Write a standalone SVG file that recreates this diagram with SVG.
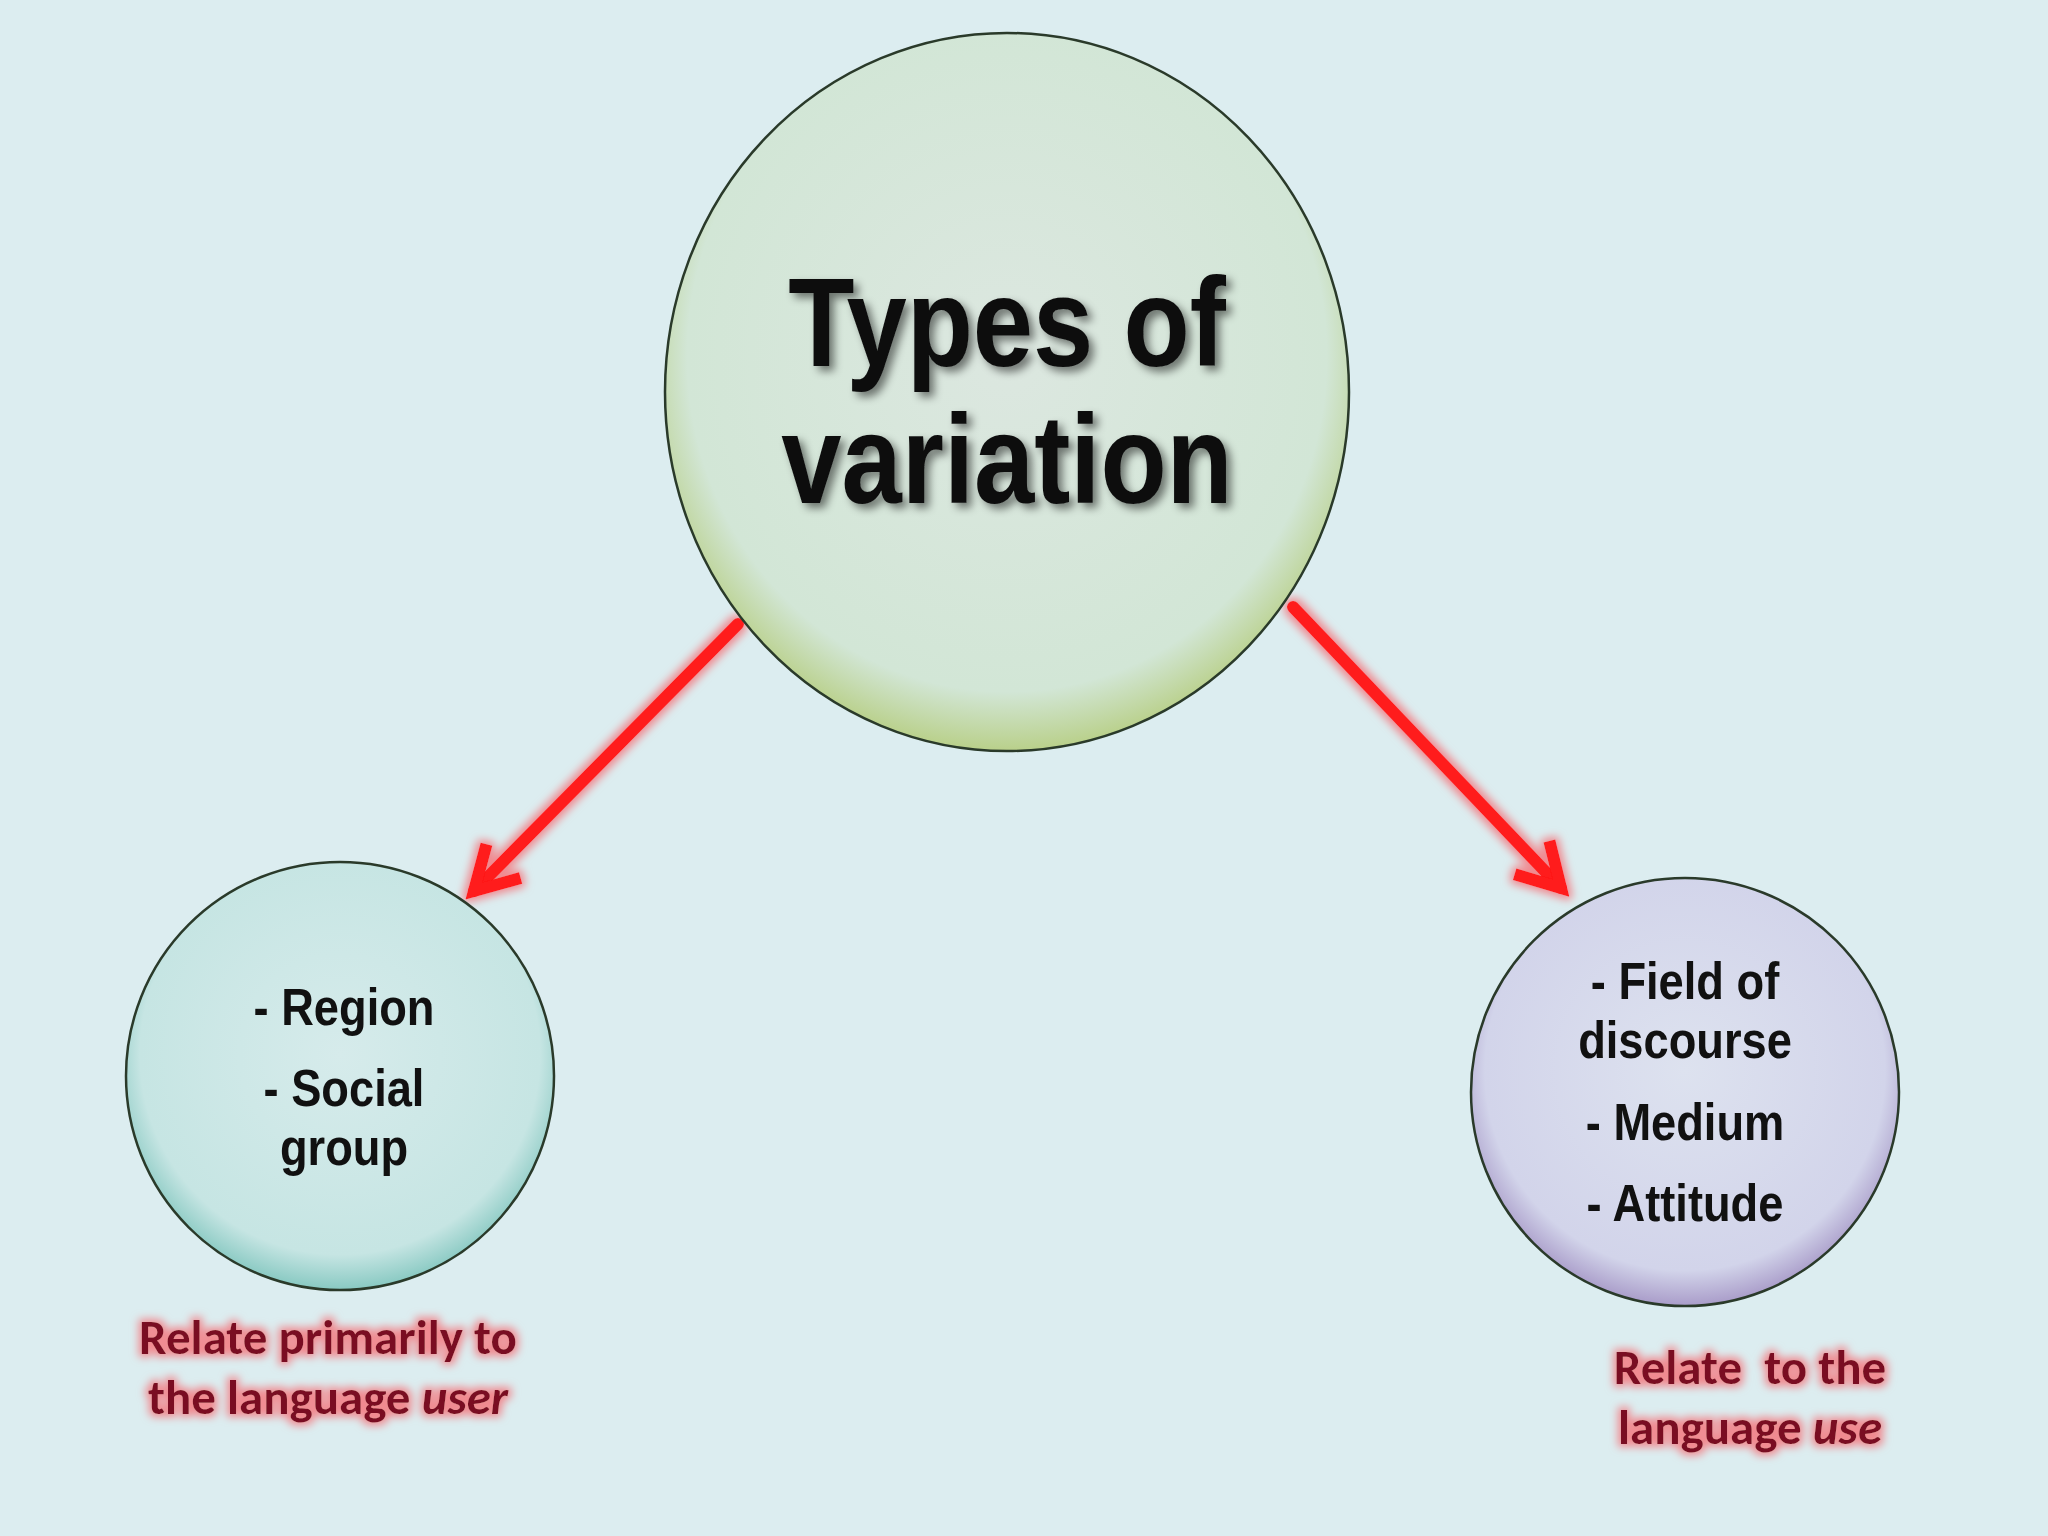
<svg xmlns="http://www.w3.org/2000/svg" width="2048" height="1536" viewBox="0 0 2048 1536">
<defs>
<radialGradient id="gc" cx="50%" cy="45%" r="55%"><stop offset="0" stop-color="#dce7e0"/><stop offset="0.85" stop-color="#d2e6d6"/><stop offset="1" stop-color="#b9d08a"/></radialGradient>
<radialGradient id="gl" cx="50%" cy="45%" r="55%"><stop offset="0" stop-color="#d6ebeb"/><stop offset="0.85" stop-color="#c6e5e3"/><stop offset="1" stop-color="#88c9c2"/></radialGradient>
<radialGradient id="gr" cx="50%" cy="45%" r="55%"><stop offset="0" stop-color="#dde2ef"/><stop offset="0.85" stop-color="#d2d4ea"/><stop offset="1" stop-color="#a99cc9"/></radialGradient>
<filter id="sh" x="-20%" y="-20%" width="140%" height="140%"><feGaussianBlur in="SourceAlpha" stdDeviation="4"/><feOffset dx="5" dy="5"/><feComponentTransfer><feFuncA type="linear" slope="0.5"/></feComponentTransfer><feMerge><feMergeNode/><feMergeNode in="SourceGraphic"/></feMerge></filter>
<filter id="glow" x="-20%" y="-20%" width="140%" height="140%"><feMorphology in="SourceAlpha" operator="dilate" radius="3" result="d"/><feGaussianBlur in="d" stdDeviation="4" result="b"/><feFlood flood-color="#f08a90"/><feComposite in2="b" operator="in"/><feMerge><feMergeNode/><feMergeNode in="SourceGraphic"/></feMerge></filter>
<marker id="ah" viewBox="0 0 10 10" refX="8" refY="5" markerWidth="5" markerHeight="5" orient="auto"><path d="M1,1 L8,5 L1,9" fill="none" stroke="#ff1a1a" stroke-width="2"/></marker>
</defs>
<style>
.c{stroke:#2a3a2a;stroke-width:2.5}
.t{font-family:"Liberation Sans",Arial,sans-serif;font-weight:bold;fill:#111;text-anchor:middle}
.r{font-family:Carlito,"Liberation Sans",sans-serif;font-weight:bold;fill:#7a1020;text-anchor:middle;font-size:49px}
.a{stroke:#ff1a1a;stroke-width:12;fill:none;stroke-linecap:round}
</style>
<rect width="2048" height="1536" fill="#dcedf0"/>
<g id="connectors" filter="url(#glow)">
<line class="a" x1="738" y1="624" x2="474" y2="891" marker-end="url(#ah)"/>
<line class="a" x1="1293" y1="607" x2="1561" y2="888" marker-end="url(#ah)"/>
</g>
<g id="center">
<ellipse class="c" cx="1007" cy="392" rx="342" ry="359" fill="url(#gc)"/>
<g filter="url(#sh)"><text class="t" font-size="126" transform="translate(1007,0) scale(0.86,1)"><tspan x="0" y="366">Types of</tspan><tspan x="0" y="503">variation</tspan></text></g>
</g>
<g id="left">
<circle class="c" cx="340" cy="1076" r="214" fill="url(#gl)"/>
<text class="t" font-size="52" transform="translate(344,0) scale(0.87,1)"><tspan x="0" y="1025">- Region</tspan><tspan x="0" y="1106">- Social</tspan><tspan x="0" y="1165">group</tspan></text>
</g>
<g id="right">
<circle class="c" cx="1685" cy="1092" r="214" fill="url(#gr)"/>
<text class="t" font-size="52" transform="translate(1685,0) scale(0.87,1)"><tspan x="0" y="999">- Field of</tspan><tspan x="0" y="1058">discourse</tspan><tspan x="0" y="1140">- Medium</tspan><tspan x="0" y="1221">- Attitude</tspan></text>
</g>
<g id="label-left" filter="url(#glow)">
<text class="r"><tspan x="328" y="1354">Relate primarily to</tspan><tspan x="328" y="1414">the language <tspan font-style="italic">user</tspan></tspan></text>
</g>
<g id="label-right" filter="url(#glow)">
<text class="r" xml:space="preserve"><tspan x="1750" y="1384">Relate  to the</tspan><tspan x="1750" y="1444">language <tspan font-style="italic">use</tspan></tspan></text>
</g>
</svg>
